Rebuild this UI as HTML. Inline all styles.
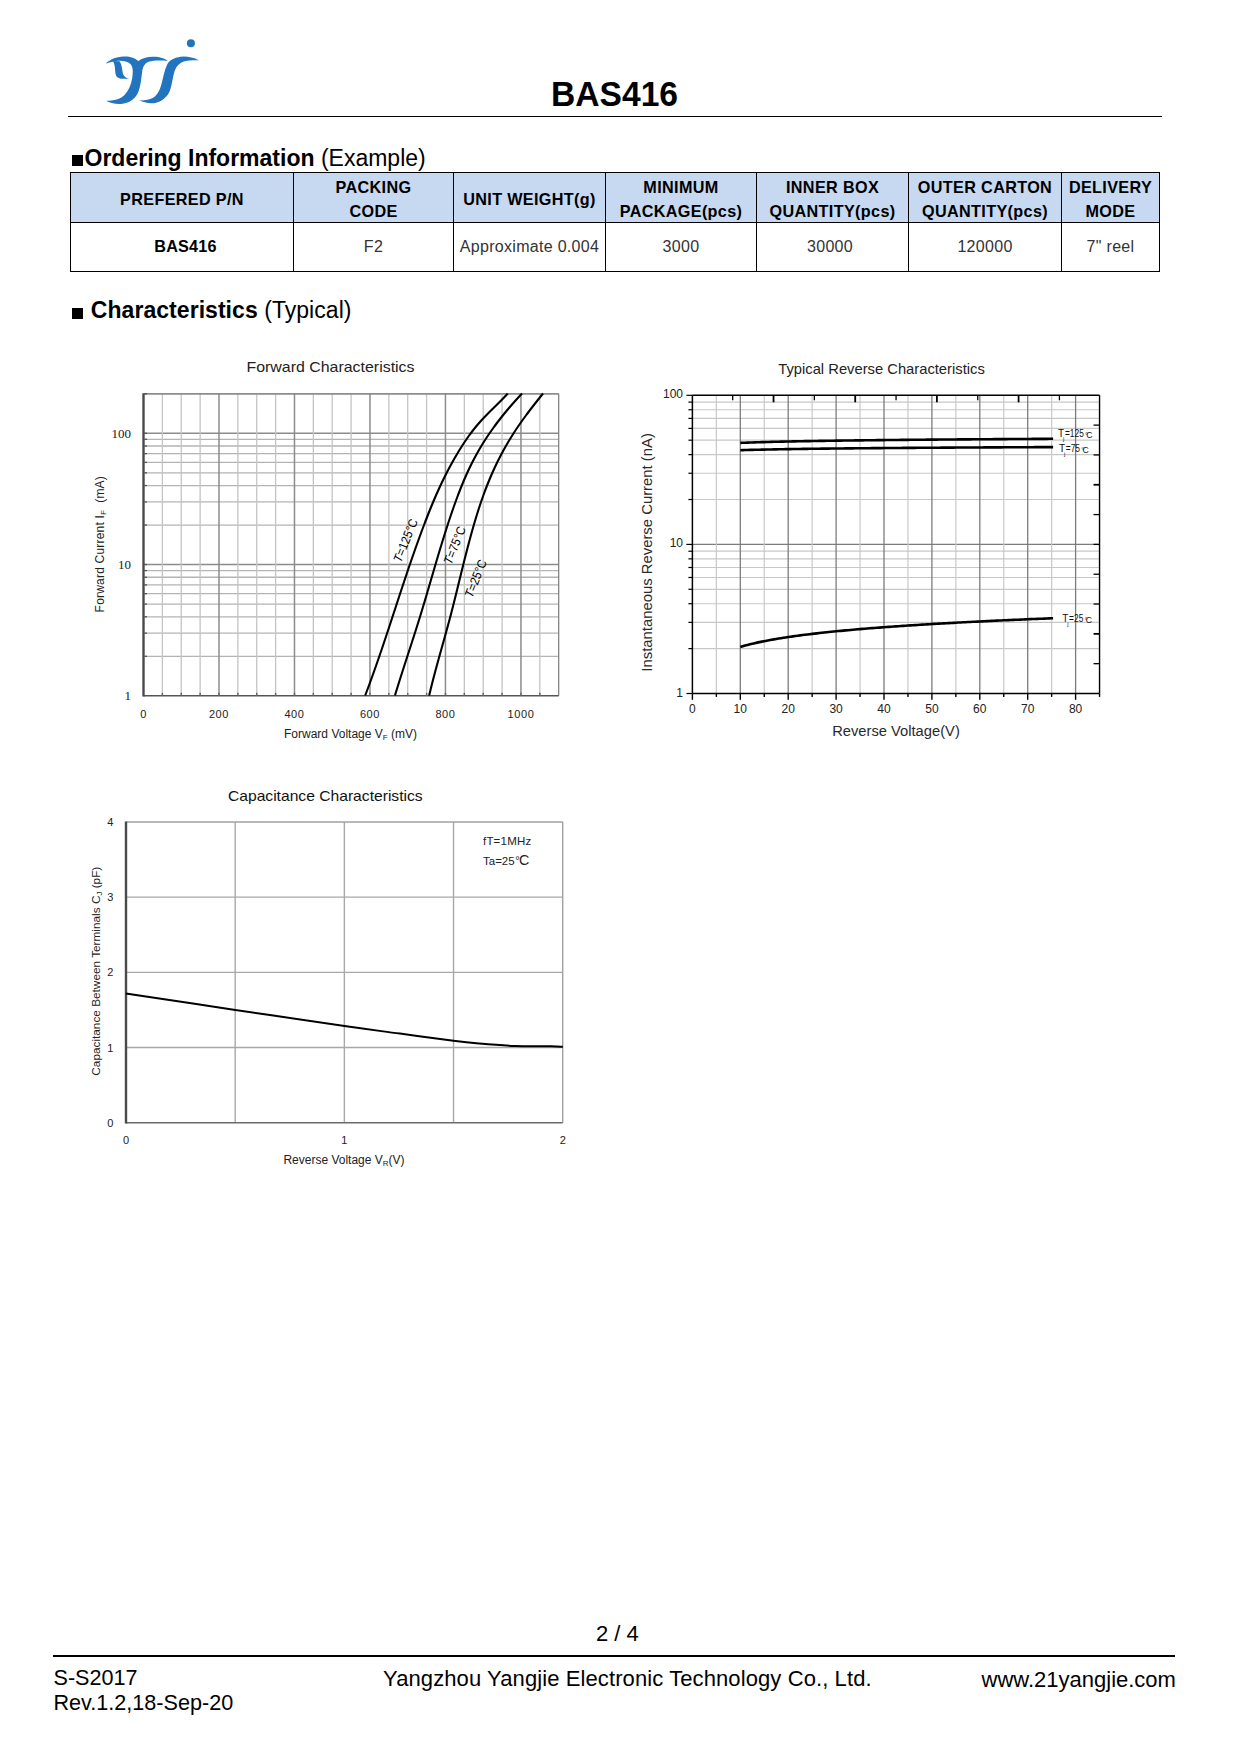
<!DOCTYPE html>
<html><head><meta charset="utf-8">
<style>
html,body{margin:0;padding:0;background:#fff;}
body{width:1240px;height:1754px;position:relative;overflow:hidden;font-family:"Liberation Sans",sans-serif;color:#000;}
.a{position:absolute;white-space:nowrap;line-height:1;}
.hr{position:absolute;background:#000;}
table.ord{position:absolute;left:70px;top:172px;border-collapse:collapse;table-layout:fixed;}
table.ord td{border:1px solid #000;padding:0;text-align:center;vertical-align:middle;font-size:16.2px;letter-spacing:0.2px;line-height:23.5px;}
table.ord tr.h td{background:#c6d9f1;font-weight:bold;height:49px;padding:0;line-height:24px;letter-spacing:0.35px;}
table.ord td span.t{display:inline-block;position:relative;top:1.8px;}
table.ord tr.b td{height:48px;padding-bottom:0px;color:#333;font-size:16px;letter-spacing:0.3px;}
</style></head>
<body>
<!-- logo -->
<svg style="position:absolute;left:0;top:0" width="220" height="120" viewBox="0 0 220 120">
 <g fill="#2274be">
  <g transform="translate(100 50) scale(0.05647)">
   <path d="M110,232 C180,170 280,120 420,115 C540,112 630,150 680,195 C740,150 830,118 950,120 C1060,122 1150,150 1200,195 C1100,185 950,180 860,210 C790,240 755,300 745,400 C730,520 720,640 680,740 C630,860 520,950 370,955 C260,958 160,940 110,900 C250,895 360,870 430,800 C510,720 550,620 570,500 C585,400 590,310 540,250 C490,200 400,185 320,190 C230,195 160,225 110,240 Z"/>
   <path d="M225,195 C272,250 262,350 278,432 C292,497 362,522 515,506 C455,490 422,472 406,420 C390,350 392,262 348,198 Z"/>
  </g>
  <g transform="translate(135 34) scale(0.05647)">
   <path d="M1130,465 C1050,420 950,400 860,400 C730,405 620,450 570,540 C520,640 500,780 470,880 C440,990 400,1080 320,1130 C250,1170 150,1180 75,1175 C150,1215 260,1235 360,1220 C470,1200 570,1120 620,1000 C660,880 670,750 700,660 C740,560 800,500 900,480 C990,465 1060,465 1130,465 Z"/>
  </g>
  <circle cx="190.9" cy="43.3" r="4"/>
 </g>
</svg>
<div class="a" style="left:551px;top:75.6px;font-size:35px;font-weight:bold;transform:scaleX(0.96);transform-origin:0 0;">BAS416</div>
<div class="hr" style="left:68px;top:115.8px;width:1094px;height:1.3px;"></div>

<div class="hr" style="left:72.3px;top:155.4px;width:10.5px;height:10.3px;"></div>
<div class="a" style="left:84.5px;top:146.7px;font-size:23px;"><b>Ordering Information</b> (Example)</div>

<table class="ord">
<colgroup><col style="width:223px"><col style="width:160px"><col style="width:152px"><col style="width:151px"><col style="width:152px"><col style="width:153px"><col style="width:98px"></colgroup>
<tr class="h"><td><span class="t">PREFERED P/N</span></td><td><span class="t">PACKING<br>CODE</span></td><td><span class="t">UNIT WEIGHT(g)</span></td><td><span class="t">MINIMUM<br>PACKAGE(pcs)</span></td><td><span class="t">INNER BOX<br>QUANTITY(pcs)</span></td><td><span class="t">OUTER CARTON<br>QUANTITY(pcs)</span></td><td><span class="t">DELIVERY<br>MODE</span></td></tr>
<tr class="b"><td style="font-weight:bold;color:#000;font-size:16.2px;letter-spacing:0.2px;padding-left:7px">BAS416</td><td>F2</td><td>Approximate 0.004</td><td>3000</td><td style="padding-right:5px">30000</td><td>120000</td><td>7" reel</td></tr>
</table>

<div class="hr" style="left:72.3px;top:308.1px;width:10.6px;height:10.7px;"></div>
<div class="a" style="left:90.8px;top:299.3px;font-size:23px;letter-spacing:0.05px;"><b>Characteristics</b> (Typical)</div>

<!-- CHARTS -->
<svg id="charts" style="position:absolute;left:0;top:0" width="1240" height="1240" viewBox="0 0 1240 1240">
<line x1="143.50" y1="656.29" x2="558.70" y2="656.29" stroke="#b4b4b4" stroke-width="1.3"/>
<line x1="143.50" y1="633.18" x2="558.70" y2="633.18" stroke="#b4b4b4" stroke-width="1.3"/>
<line x1="143.50" y1="616.78" x2="558.70" y2="616.78" stroke="#b4b4b4" stroke-width="1.3"/>
<line x1="143.50" y1="604.06" x2="558.70" y2="604.06" stroke="#b4b4b4" stroke-width="1.3"/>
<line x1="143.50" y1="593.67" x2="558.70" y2="593.67" stroke="#b4b4b4" stroke-width="1.3"/>
<line x1="143.50" y1="584.88" x2="558.70" y2="584.88" stroke="#b4b4b4" stroke-width="1.3"/>
<line x1="143.50" y1="577.27" x2="558.70" y2="577.27" stroke="#b4b4b4" stroke-width="1.3"/>
<line x1="143.50" y1="570.56" x2="558.70" y2="570.56" stroke="#b4b4b4" stroke-width="1.3"/>
<line x1="143.50" y1="564.55" x2="558.70" y2="564.55" stroke="#8c8c8c" stroke-width="1.6"/>
<line x1="143.50" y1="525.04" x2="558.70" y2="525.04" stroke="#b4b4b4" stroke-width="1.3"/>
<line x1="143.50" y1="501.93" x2="558.70" y2="501.93" stroke="#b4b4b4" stroke-width="1.3"/>
<line x1="143.50" y1="485.53" x2="558.70" y2="485.53" stroke="#b4b4b4" stroke-width="1.3"/>
<line x1="143.50" y1="472.81" x2="558.70" y2="472.81" stroke="#b4b4b4" stroke-width="1.3"/>
<line x1="143.50" y1="462.42" x2="558.70" y2="462.42" stroke="#b4b4b4" stroke-width="1.3"/>
<line x1="143.50" y1="453.63" x2="558.70" y2="453.63" stroke="#b4b4b4" stroke-width="1.3"/>
<line x1="143.50" y1="446.02" x2="558.70" y2="446.02" stroke="#b4b4b4" stroke-width="1.3"/>
<line x1="143.50" y1="439.31" x2="558.70" y2="439.31" stroke="#b4b4b4" stroke-width="1.3"/>
<line x1="143.50" y1="433.30" x2="558.70" y2="433.30" stroke="#8c8c8c" stroke-width="1.6"/>
<line x1="143.50" y1="393.79" x2="558.70" y2="393.79" stroke="#b4b4b4" stroke-width="1.3"/>
<line x1="162.37" y1="393.79" x2="162.37" y2="695.80" stroke="#c4c4c4" stroke-width="1.3"/>
<line x1="181.25" y1="393.79" x2="181.25" y2="695.80" stroke="#c4c4c4" stroke-width="1.3"/>
<line x1="200.12" y1="393.79" x2="200.12" y2="695.80" stroke="#c4c4c4" stroke-width="1.3"/>
<line x1="218.99" y1="393.79" x2="218.99" y2="695.80" stroke="#8c8c8c" stroke-width="1.5"/>
<line x1="237.86" y1="393.79" x2="237.86" y2="695.80" stroke="#c4c4c4" stroke-width="1.3"/>
<line x1="256.74" y1="393.79" x2="256.74" y2="695.80" stroke="#c4c4c4" stroke-width="1.3"/>
<line x1="275.61" y1="393.79" x2="275.61" y2="695.80" stroke="#c4c4c4" stroke-width="1.3"/>
<line x1="294.48" y1="393.79" x2="294.48" y2="695.80" stroke="#8c8c8c" stroke-width="1.5"/>
<line x1="313.35" y1="393.79" x2="313.35" y2="695.80" stroke="#c4c4c4" stroke-width="1.3"/>
<line x1="332.23" y1="393.79" x2="332.23" y2="695.80" stroke="#c4c4c4" stroke-width="1.3"/>
<line x1="351.10" y1="393.79" x2="351.10" y2="695.80" stroke="#c4c4c4" stroke-width="1.3"/>
<line x1="369.97" y1="393.79" x2="369.97" y2="695.80" stroke="#8c8c8c" stroke-width="1.5"/>
<line x1="388.85" y1="393.79" x2="388.85" y2="695.80" stroke="#c4c4c4" stroke-width="1.3"/>
<line x1="407.72" y1="393.79" x2="407.72" y2="695.80" stroke="#c4c4c4" stroke-width="1.3"/>
<line x1="426.59" y1="393.79" x2="426.59" y2="695.80" stroke="#c4c4c4" stroke-width="1.3"/>
<line x1="445.46" y1="393.79" x2="445.46" y2="695.80" stroke="#8c8c8c" stroke-width="1.5"/>
<line x1="464.34" y1="393.79" x2="464.34" y2="695.80" stroke="#c4c4c4" stroke-width="1.3"/>
<line x1="483.21" y1="393.79" x2="483.21" y2="695.80" stroke="#c4c4c4" stroke-width="1.3"/>
<line x1="502.08" y1="393.79" x2="502.08" y2="695.80" stroke="#c4c4c4" stroke-width="1.3"/>
<line x1="520.95" y1="393.79" x2="520.95" y2="695.80" stroke="#8c8c8c" stroke-width="1.5"/>
<line x1="539.83" y1="393.79" x2="539.83" y2="695.80" stroke="#c4c4c4" stroke-width="1.3"/>
<line x1="143.50" y1="393.79" x2="558.70" y2="393.79" stroke="#7a7a7a" stroke-width="1.2"/>
<line x1="558.70" y1="393.79" x2="558.70" y2="695.80" stroke="#7a7a7a" stroke-width="1.2"/>
<line x1="143.50" y1="695.80" x2="558.70" y2="695.80" stroke="#555" stroke-width="1.6"/>
<line x1="143.50" y1="393.29" x2="143.50" y2="696.60" stroke="#4a4a4a" stroke-width="2.4"/>
<path d="M507.73,393.50 L505.91,395.50 L504.02,397.50 L502.08,399.50 L500.10,401.50 L498.09,403.50 L496.06,405.50 L494.03,407.50 L492.00,409.50 L489.98,411.50 L487.99,413.50 L486.03,415.50 L484.10,417.50 L482.22,419.50 L480.40,421.50 L478.63,423.50 L476.92,425.50 L475.27,427.50 L473.66,429.50 L472.11,431.50 L470.60,433.50 L469.13,435.50 L467.70,437.50 L466.31,439.50 L464.95,441.50 L463.63,443.50 L462.33,445.50 L461.06,447.50 L459.81,449.50 L458.59,451.50 L457.38,453.50 L456.20,455.50 L455.03,457.50 L453.88,459.50 L452.75,461.50 L451.64,463.50 L450.55,465.50 L449.47,467.50 L448.41,469.50 L447.37,471.50 L446.34,473.50 L445.32,475.50 L444.33,477.50 L443.34,479.50 L442.37,481.50 L441.42,483.50 L440.48,485.50 L439.55,487.50 L438.63,489.50 L437.73,491.50 L436.84,493.50 L435.95,495.50 L435.08,497.50 L434.23,499.50 L433.38,501.50 L432.54,503.50 L431.71,505.50 L430.89,507.50 L430.07,509.50 L429.27,511.50 L428.47,513.50 L427.68,515.50 L426.90,517.50 L426.12,519.50 L425.35,521.50 L424.59,523.50 L423.83,525.50 L423.07,527.50 L422.32,529.50 L421.58,531.50 L420.84,533.50 L420.10,535.50 L419.37,537.50 L418.64,539.50 L417.92,541.50 L417.20,543.50 L416.49,545.50 L415.77,547.50 L415.07,549.50 L414.36,551.50 L413.66,553.50 L412.96,555.50 L412.27,557.50 L411.57,559.50 L410.88,561.50 L410.20,563.50 L409.51,565.50 L408.83,567.50 L408.15,569.50 L407.48,571.50 L406.80,573.50 L406.13,575.50 L405.46,577.50 L404.79,579.50 L404.12,581.50 L403.46,583.50 L402.80,585.50 L402.13,587.50 L401.47,589.50 L400.81,591.50 L400.15,593.50 L399.49,595.50 L398.84,597.50 L398.18,599.50 L397.52,601.50 L396.87,603.50 L396.21,605.50 L395.56,607.50 L394.90,609.50 L394.25,611.50 L393.59,613.50 L392.94,615.50 L392.28,617.50 L391.63,619.50 L390.97,621.50 L390.31,623.50 L389.65,625.50 L389.00,627.50 L388.33,629.50 L387.67,631.50 L387.01,633.50 L386.35,635.50 L385.68,637.50 L385.01,639.50 L384.34,641.50 L383.67,643.50 L383.00,645.50 L382.32,647.50 L381.65,649.50 L380.97,651.50 L380.28,653.50 L379.60,655.50 L378.91,657.50 L378.22,659.50 L377.53,661.50 L376.83,663.50 L376.13,665.50 L375.43,667.50 L374.72,669.50 L374.01,671.50 L373.30,673.50 L372.58,675.50 L371.86,677.50 L371.14,679.50 L370.41,681.50 L369.67,683.50 L368.94,685.50 L368.19,687.50 L367.45,689.50 L366.70,691.50 L365.94,693.50 L365.18,695.50" fill="none" stroke="#000" stroke-width="2.1" stroke-linejoin="round"/>
<path d="M522.02,393.50 L520.15,395.50 L518.29,397.50 L516.47,399.50 L514.67,401.50 L512.89,403.50 L511.14,405.50 L509.42,407.50 L507.72,409.50 L506.04,411.50 L504.40,413.50 L502.78,415.50 L501.18,417.50 L499.62,419.50 L498.07,421.50 L496.56,423.50 L495.07,425.50 L493.61,427.50 L492.17,429.50 L490.76,431.50 L489.38,433.50 L488.03,435.50 L486.70,437.50 L485.40,439.50 L484.12,441.50 L482.87,443.50 L481.64,445.50 L480.44,447.50 L479.27,449.50 L478.12,451.50 L476.99,453.50 L475.89,455.50 L474.81,457.50 L473.76,459.50 L472.72,461.50 L471.71,463.50 L470.72,465.50 L469.75,467.50 L468.79,469.50 L467.86,471.50 L466.95,473.50 L466.05,475.50 L465.17,477.50 L464.30,479.50 L463.45,481.50 L462.62,483.50 L461.80,485.50 L460.99,487.50 L460.19,489.50 L459.41,491.50 L458.64,493.50 L457.88,495.50 L457.13,497.50 L456.39,499.50 L455.66,501.50 L454.94,503.50 L454.23,505.50 L453.52,507.50 L452.82,509.50 L452.13,511.50 L451.44,513.50 L450.76,515.50 L450.09,517.50 L449.42,519.50 L448.76,521.50 L448.10,523.50 L447.45,525.50 L446.80,527.50 L446.16,529.50 L445.52,531.50 L444.89,533.50 L444.26,535.50 L443.63,537.50 L443.01,539.50 L442.39,541.50 L441.78,543.50 L441.17,545.50 L440.56,547.50 L439.95,549.50 L439.35,551.50 L438.75,553.50 L438.15,555.50 L437.56,557.50 L436.96,559.50 L436.37,561.50 L435.78,563.50 L435.19,565.50 L434.60,567.50 L434.02,569.50 L433.43,571.50 L432.84,573.50 L432.26,575.50 L431.67,577.50 L431.09,579.50 L430.50,581.50 L429.92,583.50 L429.33,585.50 L428.75,587.50 L428.16,589.50 L427.57,591.50 L426.99,593.50 L426.40,595.50 L425.81,597.50 L425.21,599.50 L424.62,601.50 L424.02,603.50 L423.42,605.50 L422.82,607.50 L422.22,609.50 L421.61,611.50 L421.00,613.50 L420.39,615.50 L419.77,617.50 L419.15,619.50 L418.53,621.50 L417.90,623.50 L417.27,625.50 L416.64,627.50 L416.01,629.50 L415.37,631.50 L414.73,633.50 L414.09,635.50 L413.45,637.50 L412.80,639.50 L412.16,641.50 L411.51,643.50 L410.86,645.50 L410.22,647.50 L409.57,649.50 L408.92,651.50 L408.27,653.50 L407.62,655.50 L406.97,657.50 L406.32,659.50 L405.67,661.50 L405.03,663.50 L404.38,665.50 L403.74,667.50 L403.09,669.50 L402.45,671.50 L401.81,673.50 L401.17,675.50 L400.54,677.50 L399.91,679.50 L399.27,681.50 L398.65,683.50 L398.02,685.50 L397.40,687.50 L396.78,689.50 L396.17,691.50 L395.56,693.50 L394.95,695.50" fill="none" stroke="#000" stroke-width="2.1" stroke-linejoin="round"/>
<path d="M543.04,393.50 L541.43,395.50 L539.83,397.50 L538.23,399.50 L536.65,401.50 L535.07,403.50 L533.51,405.50 L531.96,407.50 L530.42,409.50 L528.90,411.50 L527.39,413.50 L525.91,415.50 L524.44,417.50 L522.99,419.50 L521.56,421.50 L520.15,423.50 L518.77,425.50 L517.41,427.50 L516.08,429.50 L514.76,431.50 L513.47,433.50 L512.20,435.50 L510.96,437.50 L509.73,439.50 L508.53,441.50 L507.35,443.50 L506.19,445.50 L505.05,447.50 L503.93,449.50 L502.83,451.50 L501.75,453.50 L500.70,455.50 L499.66,457.50 L498.65,459.50 L497.65,461.50 L496.67,463.50 L495.72,465.50 L494.77,467.50 L493.85,469.50 L492.95,471.50 L492.06,473.50 L491.19,475.50 L490.33,477.50 L489.49,479.50 L488.67,481.50 L487.86,483.50 L487.07,485.50 L486.29,487.50 L485.52,489.50 L484.77,491.50 L484.03,493.50 L483.30,495.50 L482.59,497.50 L481.89,499.50 L481.20,501.50 L480.52,503.50 L479.85,505.50 L479.19,507.50 L478.54,509.50 L477.91,511.50 L477.28,513.50 L476.66,515.50 L476.04,517.50 L475.44,519.50 L474.84,521.50 L474.25,523.50 L473.67,525.50 L473.10,527.50 L472.53,529.50 L471.96,531.50 L471.41,533.50 L470.85,535.50 L470.31,537.50 L469.76,539.50 L469.23,541.50 L468.70,543.50 L468.17,545.50 L467.64,547.50 L467.12,549.50 L466.61,551.50 L466.09,553.50 L465.58,555.50 L465.08,557.50 L464.57,559.50 L464.07,561.50 L463.57,563.50 L463.08,565.50 L462.58,567.50 L462.09,569.50 L461.59,571.50 L461.10,573.50 L460.61,575.50 L460.12,577.50 L459.63,579.50 L459.14,581.50 L458.65,583.50 L458.16,585.50 L457.67,587.50 L457.18,589.50 L456.69,591.50 L456.20,593.50 L455.70,595.50 L455.20,597.50 L454.70,599.50 L454.20,601.50 L453.70,603.50 L453.20,605.50 L452.69,607.50 L452.17,609.50 L451.66,611.50 L451.14,613.50 L450.62,615.50 L450.09,617.50 L449.56,619.50 L449.03,621.50 L448.49,623.50 L447.95,625.50 L447.40,627.50 L446.85,629.50 L446.30,631.50 L445.75,633.50 L445.19,635.50 L444.64,637.50 L444.08,639.50 L443.52,641.50 L442.96,643.50 L442.40,645.50 L441.84,647.50 L441.28,649.50 L440.72,651.50 L440.16,653.50 L439.61,655.50 L439.05,657.50 L438.50,659.50 L437.95,661.50 L437.40,663.50 L436.85,665.50 L436.31,667.50 L435.77,669.50 L435.23,671.50 L434.70,673.50 L434.17,675.50 L433.64,677.50 L433.13,679.50 L432.61,681.50 L432.10,683.50 L431.60,685.50 L431.10,687.50 L430.61,689.50 L430.13,691.50 L429.65,693.50 L429.18,695.50" fill="none" stroke="#000" stroke-width="2.1" stroke-linejoin="round"/>
<text x="131.00" y="437.60" font-family="'Liberation Serif', serif" font-size="13" text-anchor="end" fill="#222">100</text>
<text x="131.00" y="569.10" font-family="'Liberation Serif', serif" font-size="13" text-anchor="end" fill="#222">10</text>
<text x="131.00" y="700.10" font-family="'Liberation Serif', serif" font-size="13" text-anchor="end" fill="#222">1</text>
<text x="143.50" y="718.20" font-family="'Liberation Sans', sans-serif" font-size="11" text-anchor="middle" fill="#222" letter-spacing="0.6">0</text>
<text x="218.99" y="718.20" font-family="'Liberation Sans', sans-serif" font-size="11" text-anchor="middle" fill="#222" letter-spacing="0.6">200</text>
<text x="294.48" y="718.20" font-family="'Liberation Sans', sans-serif" font-size="11" text-anchor="middle" fill="#222" letter-spacing="0.6">400</text>
<text x="369.97" y="718.20" font-family="'Liberation Sans', sans-serif" font-size="11" text-anchor="middle" fill="#222" letter-spacing="0.6">600</text>
<text x="445.46" y="718.20" font-family="'Liberation Sans', sans-serif" font-size="11" text-anchor="middle" fill="#222" letter-spacing="0.6">800</text>
<text x="520.95" y="718.20" font-family="'Liberation Sans', sans-serif" font-size="11" text-anchor="middle" fill="#222" letter-spacing="0.6">1000</text>
<line x1="144.50" y1="656.29" x2="147.00" y2="656.29" stroke="#555" stroke-width="1.3"/>
<line x1="144.50" y1="633.18" x2="147.00" y2="633.18" stroke="#555" stroke-width="1.3"/>
<line x1="144.50" y1="616.78" x2="147.00" y2="616.78" stroke="#555" stroke-width="1.3"/>
<line x1="144.50" y1="604.06" x2="147.00" y2="604.06" stroke="#555" stroke-width="1.3"/>
<line x1="144.50" y1="593.67" x2="147.00" y2="593.67" stroke="#555" stroke-width="1.3"/>
<line x1="144.50" y1="584.88" x2="147.00" y2="584.88" stroke="#555" stroke-width="1.3"/>
<line x1="144.50" y1="577.27" x2="147.00" y2="577.27" stroke="#555" stroke-width="1.3"/>
<line x1="144.50" y1="570.56" x2="147.00" y2="570.56" stroke="#555" stroke-width="1.3"/>
<line x1="144.50" y1="564.55" x2="147.00" y2="564.55" stroke="#555" stroke-width="1.3"/>
<line x1="144.50" y1="525.04" x2="147.00" y2="525.04" stroke="#555" stroke-width="1.3"/>
<line x1="144.50" y1="501.93" x2="147.00" y2="501.93" stroke="#555" stroke-width="1.3"/>
<line x1="144.50" y1="485.53" x2="147.00" y2="485.53" stroke="#555" stroke-width="1.3"/>
<line x1="144.50" y1="472.81" x2="147.00" y2="472.81" stroke="#555" stroke-width="1.3"/>
<line x1="144.50" y1="462.42" x2="147.00" y2="462.42" stroke="#555" stroke-width="1.3"/>
<line x1="144.50" y1="453.63" x2="147.00" y2="453.63" stroke="#555" stroke-width="1.3"/>
<line x1="144.50" y1="446.02" x2="147.00" y2="446.02" stroke="#555" stroke-width="1.3"/>
<line x1="144.50" y1="439.31" x2="147.00" y2="439.31" stroke="#555" stroke-width="1.3"/>
<line x1="144.50" y1="433.30" x2="147.00" y2="433.30" stroke="#555" stroke-width="1.3"/>
<line x1="144.50" y1="393.79" x2="147.00" y2="393.79" stroke="#555" stroke-width="1.3"/>
<line x1="162.37" y1="692.80" x2="162.37" y2="695.80" stroke="#666" stroke-width="1.5"/>
<line x1="181.25" y1="692.80" x2="181.25" y2="695.80" stroke="#666" stroke-width="1.5"/>
<line x1="200.12" y1="692.80" x2="200.12" y2="695.80" stroke="#666" stroke-width="1.5"/>
<line x1="218.99" y1="692.80" x2="218.99" y2="695.80" stroke="#666" stroke-width="1.5"/>
<line x1="237.86" y1="692.80" x2="237.86" y2="695.80" stroke="#666" stroke-width="1.5"/>
<line x1="256.74" y1="692.80" x2="256.74" y2="695.80" stroke="#666" stroke-width="1.5"/>
<line x1="275.61" y1="692.80" x2="275.61" y2="695.80" stroke="#666" stroke-width="1.5"/>
<line x1="294.48" y1="692.80" x2="294.48" y2="695.80" stroke="#666" stroke-width="1.5"/>
<line x1="313.35" y1="692.80" x2="313.35" y2="695.80" stroke="#666" stroke-width="1.5"/>
<line x1="332.23" y1="692.80" x2="332.23" y2="695.80" stroke="#666" stroke-width="1.5"/>
<line x1="351.10" y1="692.80" x2="351.10" y2="695.80" stroke="#666" stroke-width="1.5"/>
<line x1="369.97" y1="692.80" x2="369.97" y2="695.80" stroke="#666" stroke-width="1.5"/>
<line x1="388.85" y1="692.80" x2="388.85" y2="695.80" stroke="#666" stroke-width="1.5"/>
<line x1="407.72" y1="692.80" x2="407.72" y2="695.80" stroke="#666" stroke-width="1.5"/>
<line x1="426.59" y1="692.80" x2="426.59" y2="695.80" stroke="#666" stroke-width="1.5"/>
<line x1="445.46" y1="692.80" x2="445.46" y2="695.80" stroke="#666" stroke-width="1.5"/>
<line x1="464.34" y1="692.80" x2="464.34" y2="695.80" stroke="#666" stroke-width="1.5"/>
<line x1="483.21" y1="692.80" x2="483.21" y2="695.80" stroke="#666" stroke-width="1.5"/>
<line x1="502.08" y1="692.80" x2="502.08" y2="695.80" stroke="#666" stroke-width="1.5"/>
<line x1="520.95" y1="692.80" x2="520.95" y2="695.80" stroke="#666" stroke-width="1.5"/>
<line x1="539.83" y1="692.80" x2="539.83" y2="695.80" stroke="#666" stroke-width="1.5"/>
<text x="330.50" y="371.50" font-family="'Liberation Sans', sans-serif" font-size="15" text-anchor="middle" fill="#222" textLength="168" lengthAdjust="spacingAndGlyphs">Forward Characteristics</text>
<text x="350.50" y="738.00" font-family="'Liberation Sans', sans-serif" font-size="12" text-anchor="middle" fill="#222">Forward Voltage V<tspan font-size="8" dy="2">F</tspan><tspan dy="-2"> (mV)</tspan></text>
<g transform="translate(103.5 544.2) rotate(-90)">
<text x="0.00" y="0.00" font-family="'Liberation Sans', sans-serif" font-size="12" text-anchor="middle" fill="#222" letter-spacing="0.2">Forward Current I<tspan font-size="8" dy="2">F</tspan><tspan dy="-2" xml:space="preserve">  (mA)</tspan></text>
</g>
<g transform="translate(405.3 540.4) rotate(-68)">
<text x="0.00" y="4.50" font-family="'Liberation Sans', sans-serif" font-size="12.6" text-anchor="middle" fill="#000" textLength="45.5" lengthAdjust="spacingAndGlyphs"><tspan font-style="italic">T</tspan>=125°C</text>
</g>
<g transform="translate(454.5 545.2) rotate(-68)">
<text x="0.00" y="4.50" font-family="'Liberation Sans', sans-serif" font-size="12.6" text-anchor="middle" fill="#000" textLength="39.5" lengthAdjust="spacingAndGlyphs"><tspan font-style="italic">T</tspan>=75°C</text>
</g>
<g transform="translate(475.5 578.5) rotate(-68)">
<text x="0.00" y="4.50" font-family="'Liberation Sans', sans-serif" font-size="12.6" text-anchor="middle" fill="#000" textLength="39.5" lengthAdjust="spacingAndGlyphs"><tspan font-style="italic">T</tspan>=25°C</text>
</g>
<line x1="692.40" y1="648.62" x2="1099.55" y2="648.62" stroke="#c8c8c8" stroke-width="1.2"/>
<line x1="692.40" y1="622.36" x2="1099.55" y2="622.36" stroke="#c8c8c8" stroke-width="1.2"/>
<line x1="692.40" y1="603.73" x2="1099.55" y2="603.73" stroke="#c8c8c8" stroke-width="1.2"/>
<line x1="692.40" y1="589.28" x2="1099.55" y2="589.28" stroke="#c8c8c8" stroke-width="1.2"/>
<line x1="692.40" y1="577.48" x2="1099.55" y2="577.48" stroke="#c8c8c8" stroke-width="1.2"/>
<line x1="692.40" y1="567.50" x2="1099.55" y2="567.50" stroke="#c8c8c8" stroke-width="1.2"/>
<line x1="692.40" y1="558.85" x2="1099.55" y2="558.85" stroke="#c8c8c8" stroke-width="1.2"/>
<line x1="692.40" y1="551.22" x2="1099.55" y2="551.22" stroke="#c8c8c8" stroke-width="1.2"/>
<line x1="692.40" y1="544.40" x2="1099.55" y2="544.40" stroke="#7c7c7c" stroke-width="1.3"/>
<line x1="692.40" y1="499.52" x2="1099.55" y2="499.52" stroke="#c8c8c8" stroke-width="1.2"/>
<line x1="692.40" y1="473.26" x2="1099.55" y2="473.26" stroke="#c8c8c8" stroke-width="1.2"/>
<line x1="692.40" y1="454.63" x2="1099.55" y2="454.63" stroke="#c8c8c8" stroke-width="1.2"/>
<line x1="692.40" y1="440.18" x2="1099.55" y2="440.18" stroke="#c8c8c8" stroke-width="1.2"/>
<line x1="692.40" y1="428.38" x2="1099.55" y2="428.38" stroke="#c8c8c8" stroke-width="1.2"/>
<line x1="692.40" y1="418.40" x2="1099.55" y2="418.40" stroke="#c8c8c8" stroke-width="1.2"/>
<line x1="692.40" y1="409.75" x2="1099.55" y2="409.75" stroke="#c8c8c8" stroke-width="1.2"/>
<line x1="692.40" y1="402.12" x2="1099.55" y2="402.12" stroke="#c8c8c8" stroke-width="1.2"/>
<line x1="716.35" y1="395.30" x2="716.35" y2="693.50" stroke="#c8c8c8" stroke-width="1.2"/>
<line x1="740.30" y1="395.30" x2="740.30" y2="693.50" stroke="#7c7c7c" stroke-width="1.3"/>
<line x1="764.25" y1="395.30" x2="764.25" y2="693.50" stroke="#c8c8c8" stroke-width="1.2"/>
<line x1="788.20" y1="395.30" x2="788.20" y2="693.50" stroke="#7c7c7c" stroke-width="1.3"/>
<line x1="812.15" y1="395.30" x2="812.15" y2="693.50" stroke="#c8c8c8" stroke-width="1.2"/>
<line x1="836.10" y1="395.30" x2="836.10" y2="693.50" stroke="#7c7c7c" stroke-width="1.3"/>
<line x1="860.05" y1="395.30" x2="860.05" y2="693.50" stroke="#c8c8c8" stroke-width="1.2"/>
<line x1="884.00" y1="395.30" x2="884.00" y2="693.50" stroke="#7c7c7c" stroke-width="1.3"/>
<line x1="907.95" y1="395.30" x2="907.95" y2="693.50" stroke="#c8c8c8" stroke-width="1.2"/>
<line x1="931.90" y1="395.30" x2="931.90" y2="693.50" stroke="#7c7c7c" stroke-width="1.3"/>
<line x1="955.85" y1="395.30" x2="955.85" y2="693.50" stroke="#c8c8c8" stroke-width="1.2"/>
<line x1="979.80" y1="395.30" x2="979.80" y2="693.50" stroke="#7c7c7c" stroke-width="1.3"/>
<line x1="1003.75" y1="395.30" x2="1003.75" y2="693.50" stroke="#c8c8c8" stroke-width="1.2"/>
<line x1="1027.70" y1="395.30" x2="1027.70" y2="693.50" stroke="#7c7c7c" stroke-width="1.3"/>
<line x1="1051.65" y1="395.30" x2="1051.65" y2="693.50" stroke="#c8c8c8" stroke-width="1.2"/>
<line x1="1075.60" y1="395.30" x2="1075.60" y2="693.50" stroke="#7c7c7c" stroke-width="1.3"/>
<line x1="692.40" y1="395.30" x2="1099.55" y2="395.30" stroke="#000" stroke-width="1.4"/>
<line x1="1099.55" y1="395.30" x2="1099.55" y2="693.50" stroke="#000" stroke-width="1.4"/>
<line x1="692.40" y1="693.50" x2="1099.55" y2="693.50" stroke="#000" stroke-width="1.5"/>
<line x1="692.40" y1="395.30" x2="692.40" y2="693.50" stroke="#000" stroke-width="1.5"/>
<line x1="686.40" y1="693.50" x2="692.40" y2="693.50" stroke="#000" stroke-width="1.2"/>
<line x1="688.40" y1="648.62" x2="692.40" y2="648.62" stroke="#000" stroke-width="1.2"/>
<line x1="688.40" y1="622.36" x2="692.40" y2="622.36" stroke="#000" stroke-width="1.2"/>
<line x1="688.40" y1="603.73" x2="692.40" y2="603.73" stroke="#000" stroke-width="1.2"/>
<line x1="688.40" y1="589.28" x2="692.40" y2="589.28" stroke="#000" stroke-width="1.2"/>
<line x1="688.40" y1="577.48" x2="692.40" y2="577.48" stroke="#000" stroke-width="1.2"/>
<line x1="688.40" y1="567.50" x2="692.40" y2="567.50" stroke="#000" stroke-width="1.2"/>
<line x1="688.40" y1="558.85" x2="692.40" y2="558.85" stroke="#000" stroke-width="1.2"/>
<line x1="688.40" y1="551.22" x2="692.40" y2="551.22" stroke="#000" stroke-width="1.2"/>
<line x1="686.40" y1="544.40" x2="692.40" y2="544.40" stroke="#000" stroke-width="1.2"/>
<line x1="688.40" y1="499.52" x2="692.40" y2="499.52" stroke="#000" stroke-width="1.2"/>
<line x1="688.40" y1="473.26" x2="692.40" y2="473.26" stroke="#000" stroke-width="1.2"/>
<line x1="688.40" y1="454.63" x2="692.40" y2="454.63" stroke="#000" stroke-width="1.2"/>
<line x1="688.40" y1="440.18" x2="692.40" y2="440.18" stroke="#000" stroke-width="1.2"/>
<line x1="688.40" y1="428.38" x2="692.40" y2="428.38" stroke="#000" stroke-width="1.2"/>
<line x1="688.40" y1="418.40" x2="692.40" y2="418.40" stroke="#000" stroke-width="1.2"/>
<line x1="688.40" y1="409.75" x2="692.40" y2="409.75" stroke="#000" stroke-width="1.2"/>
<line x1="688.40" y1="402.12" x2="692.40" y2="402.12" stroke="#000" stroke-width="1.2"/>
<line x1="686.40" y1="395.30" x2="692.40" y2="395.30" stroke="#000" stroke-width="1.2"/>
<line x1="692.40" y1="693.50" x2="692.40" y2="699.80" stroke="#000" stroke-width="1.4"/>
<line x1="716.35" y1="693.50" x2="716.35" y2="696.90" stroke="#000" stroke-width="1.4"/>
<line x1="740.30" y1="693.50" x2="740.30" y2="699.80" stroke="#000" stroke-width="1.4"/>
<line x1="764.25" y1="693.50" x2="764.25" y2="696.90" stroke="#000" stroke-width="1.4"/>
<line x1="788.20" y1="693.50" x2="788.20" y2="699.80" stroke="#000" stroke-width="1.4"/>
<line x1="812.15" y1="693.50" x2="812.15" y2="696.90" stroke="#000" stroke-width="1.4"/>
<line x1="836.10" y1="693.50" x2="836.10" y2="699.80" stroke="#000" stroke-width="1.4"/>
<line x1="860.05" y1="693.50" x2="860.05" y2="696.90" stroke="#000" stroke-width="1.4"/>
<line x1="884.00" y1="693.50" x2="884.00" y2="699.80" stroke="#000" stroke-width="1.4"/>
<line x1="907.95" y1="693.50" x2="907.95" y2="696.90" stroke="#000" stroke-width="1.4"/>
<line x1="931.90" y1="693.50" x2="931.90" y2="699.80" stroke="#000" stroke-width="1.4"/>
<line x1="955.85" y1="693.50" x2="955.85" y2="696.90" stroke="#000" stroke-width="1.4"/>
<line x1="979.80" y1="693.50" x2="979.80" y2="699.80" stroke="#000" stroke-width="1.4"/>
<line x1="1003.75" y1="693.50" x2="1003.75" y2="696.90" stroke="#000" stroke-width="1.4"/>
<line x1="1027.70" y1="693.50" x2="1027.70" y2="699.80" stroke="#000" stroke-width="1.4"/>
<line x1="1051.65" y1="693.50" x2="1051.65" y2="696.90" stroke="#000" stroke-width="1.4"/>
<line x1="1075.60" y1="693.50" x2="1075.60" y2="699.80" stroke="#000" stroke-width="1.4"/>
<line x1="1099.55" y1="693.50" x2="1099.55" y2="696.90" stroke="#000" stroke-width="1.4"/>
<line x1="732.70" y1="395.30" x2="732.70" y2="400.30" stroke="#000" stroke-width="1.3"/>
<line x1="773.54" y1="395.30" x2="773.54" y2="402.30" stroke="#000" stroke-width="1.8"/>
<line x1="814.38" y1="395.30" x2="814.38" y2="400.30" stroke="#000" stroke-width="1.3"/>
<line x1="855.22" y1="395.30" x2="855.22" y2="402.30" stroke="#000" stroke-width="1.8"/>
<line x1="896.06" y1="395.30" x2="896.06" y2="400.30" stroke="#000" stroke-width="1.3"/>
<line x1="936.90" y1="395.30" x2="936.90" y2="402.30" stroke="#000" stroke-width="1.8"/>
<line x1="977.74" y1="395.30" x2="977.74" y2="400.30" stroke="#000" stroke-width="1.3"/>
<line x1="1018.58" y1="395.30" x2="1018.58" y2="402.30" stroke="#000" stroke-width="1.8"/>
<line x1="1059.42" y1="395.30" x2="1059.42" y2="400.30" stroke="#000" stroke-width="1.3"/>
<line x1="1093.55" y1="425.12" x2="1099.55" y2="425.12" stroke="#000" stroke-width="1.3"/>
<line x1="1093.55" y1="454.94" x2="1099.55" y2="454.94" stroke="#000" stroke-width="1.3"/>
<line x1="1093.55" y1="484.76" x2="1099.55" y2="484.76" stroke="#000" stroke-width="1.8"/>
<line x1="1093.55" y1="514.58" x2="1099.55" y2="514.58" stroke="#000" stroke-width="1.3"/>
<line x1="1093.55" y1="544.40" x2="1099.55" y2="544.40" stroke="#000" stroke-width="1.3"/>
<line x1="1093.55" y1="574.22" x2="1099.55" y2="574.22" stroke="#000" stroke-width="1.3"/>
<line x1="1093.55" y1="604.04" x2="1099.55" y2="604.04" stroke="#000" stroke-width="1.3"/>
<line x1="1093.55" y1="633.86" x2="1099.55" y2="633.86" stroke="#000" stroke-width="1.8"/>
<line x1="1093.55" y1="663.68" x2="1099.55" y2="663.68" stroke="#000" stroke-width="1.3"/>
<path d="M740.30,442.90 L742.69,442.80 L745.09,442.71 L747.49,442.62 L749.88,442.53 L752.27,442.45 L754.67,442.37 L757.06,442.29 L759.46,442.22 L761.86,442.15 L764.25,442.08 L766.64,442.01 L769.04,441.95 L771.43,441.88 L773.83,441.82 L776.23,441.76 L778.62,441.71 L781.01,441.65 L783.41,441.60 L785.80,441.54 L788.20,441.49 L790.60,441.44 L792.99,441.39 L795.38,441.35 L797.78,441.30 L800.17,441.25 L802.57,441.21 L804.96,441.17 L807.36,441.12 L809.75,441.08 L812.15,441.04 L814.54,441.00 L816.94,440.96 L819.33,440.92 L821.73,440.88 L824.12,440.85 L826.52,440.81 L828.91,440.77 L831.31,440.74 L833.70,440.70 L836.10,440.67 L838.50,440.64 L840.89,440.60 L843.28,440.57 L845.68,440.54 L848.08,440.51 L850.47,440.48 L852.87,440.45 L855.26,440.42 L857.65,440.39 L860.05,440.36 L862.44,440.33 L864.84,440.30 L867.23,440.27 L869.63,440.24 L872.02,440.22 L874.42,440.19 L876.81,440.16 L879.21,440.14 L881.61,440.11 L884.00,440.09 L886.39,440.06 L888.79,440.04 L891.18,440.01 L893.58,439.99 L895.97,439.96 L898.37,439.94 L900.76,439.92 L903.16,439.89 L905.55,439.87 L907.95,439.85 L910.35,439.82 L912.74,439.80 L915.13,439.78 L917.53,439.76 L919.92,439.74 L922.32,439.72 L924.71,439.69 L927.11,439.67 L929.50,439.65 L931.90,439.63 L934.29,439.61 L936.69,439.59 L939.09,439.57 L941.48,439.55 L943.88,439.53 L946.27,439.51 L948.66,439.50 L951.06,439.48 L953.45,439.46 L955.85,439.44 L958.24,439.42 L960.64,439.40 L963.03,439.38 L965.43,439.37 L967.83,439.35 L970.22,439.33 L972.62,439.31 L975.01,439.30 L977.40,439.28 L979.80,439.26 L982.19,439.25 L984.59,439.23 L986.98,439.21 L989.38,439.20 L991.77,439.18 L994.17,439.16 L996.57,439.15 L998.96,439.13 L1001.36,439.12 L1003.75,439.10 L1006.14,439.08 L1008.54,439.07 L1010.93,439.05 L1013.33,439.04 L1015.72,439.02 L1018.12,439.01 L1020.51,438.99 L1022.91,438.98 L1025.30,438.96 L1027.70,438.95 L1030.10,438.94 L1032.49,438.92 L1034.88,438.91 L1037.28,438.89 L1039.67,438.88 L1042.07,438.86 L1044.46,438.85 L1046.86,438.84 L1049.25,438.82 L1051.65,438.81 L1053.09,438.80" fill="none" stroke="#000" stroke-width="2.6" stroke-linejoin="round"/>
<path d="M740.30,450.20 L742.69,450.12 L745.09,450.05 L747.49,449.98 L749.88,449.92 L752.27,449.86 L754.67,449.80 L757.06,449.74 L759.46,449.68 L761.86,449.63 L764.25,449.58 L766.64,449.53 L769.04,449.48 L771.43,449.43 L773.83,449.38 L776.23,449.34 L778.62,449.29 L781.01,449.25 L783.41,449.21 L785.80,449.17 L788.20,449.13 L790.60,449.09 L792.99,449.06 L795.38,449.02 L797.78,448.99 L800.17,448.95 L802.57,448.92 L804.96,448.88 L807.36,448.85 L809.75,448.82 L812.15,448.79 L814.54,448.76 L816.94,448.73 L819.33,448.70 L821.73,448.67 L824.12,448.64 L826.52,448.61 L828.91,448.59 L831.31,448.56 L833.70,448.53 L836.10,448.51 L838.50,448.48 L840.89,448.46 L843.28,448.43 L845.68,448.41 L848.08,448.38 L850.47,448.36 L852.87,448.34 L855.26,448.32 L857.65,448.29 L860.05,448.27 L862.44,448.25 L864.84,448.23 L867.23,448.21 L869.63,448.19 L872.02,448.16 L874.42,448.14 L876.81,448.12 L879.21,448.10 L881.61,448.08 L884.00,448.07 L886.39,448.05 L888.79,448.03 L891.18,448.01 L893.58,447.99 L895.97,447.97 L898.37,447.95 L900.76,447.94 L903.16,447.92 L905.55,447.90 L907.95,447.88 L910.35,447.87 L912.74,447.85 L915.13,447.83 L917.53,447.82 L919.92,447.80 L922.32,447.78 L924.71,447.77 L927.11,447.75 L929.50,447.74 L931.90,447.72 L934.29,447.71 L936.69,447.69 L939.09,447.68 L941.48,447.66 L943.88,447.65 L946.27,447.63 L948.66,447.62 L951.06,447.60 L953.45,447.59 L955.85,447.57 L958.24,447.56 L960.64,447.55 L963.03,447.53 L965.43,447.52 L967.83,447.51 L970.22,447.49 L972.62,447.48 L975.01,447.47 L977.40,447.45 L979.80,447.44 L982.19,447.43 L984.59,447.42 L986.98,447.40 L989.38,447.39 L991.77,447.38 L994.17,447.37 L996.57,447.35 L998.96,447.34 L1001.36,447.33 L1003.75,447.32 L1006.14,447.31 L1008.54,447.29 L1010.93,447.28 L1013.33,447.27 L1015.72,447.26 L1018.12,447.25 L1020.51,447.24 L1022.91,447.23 L1025.30,447.21 L1027.70,447.20 L1030.10,447.19 L1032.49,447.18 L1034.88,447.17 L1037.28,447.16 L1039.67,447.15 L1042.07,447.14 L1044.46,447.13 L1046.86,447.12 L1049.25,447.11 L1051.65,447.10 L1053.09,447.09" fill="none" stroke="#000" stroke-width="2.6" stroke-linejoin="round"/>
<path d="M740.30,646.90 L742.69,646.21 L745.09,645.55 L747.49,644.92 L749.88,644.31 L752.27,643.73 L754.67,643.18 L757.06,642.64 L759.46,642.13 L761.86,641.63 L764.25,641.15 L766.64,640.68 L769.04,640.23 L771.43,639.79 L773.83,639.37 L776.23,638.96 L778.62,638.56 L781.01,638.17 L783.41,637.79 L785.80,637.42 L788.20,637.06 L790.60,636.71 L792.99,636.37 L795.38,636.03 L797.78,635.71 L800.17,635.39 L802.57,635.08 L804.96,634.77 L807.36,634.47 L809.75,634.18 L812.15,633.89 L814.54,633.61 L816.94,633.34 L819.33,633.06 L821.73,632.80 L824.12,632.54 L826.52,632.28 L828.91,632.03 L831.31,631.78 L833.70,631.54 L836.10,631.30 L838.50,631.07 L840.89,630.84 L843.28,630.61 L845.68,630.39 L848.08,630.17 L850.47,629.95 L852.87,629.74 L855.26,629.53 L857.65,629.32 L860.05,629.11 L862.44,628.91 L864.84,628.71 L867.23,628.52 L869.63,628.32 L872.02,628.13 L874.42,627.95 L876.81,627.76 L879.21,627.58 L881.61,627.40 L884.00,627.22 L886.39,627.04 L888.79,626.87 L891.18,626.70 L893.58,626.53 L895.97,626.36 L898.37,626.19 L900.76,626.03 L903.16,625.86 L905.55,625.70 L907.95,625.55 L910.35,625.39 L912.74,625.23 L915.13,625.08 L917.53,624.93 L919.92,624.78 L922.32,624.63 L924.71,624.48 L927.11,624.34 L929.50,624.19 L931.90,624.05 L934.29,623.91 L936.69,623.77 L939.09,623.63 L941.48,623.49 L943.88,623.36 L946.27,623.22 L948.66,623.09 L951.06,622.96 L953.45,622.83 L955.85,622.70 L958.24,622.57 L960.64,622.44 L963.03,622.31 L965.43,622.19 L967.83,622.06 L970.22,621.94 L972.62,621.82 L975.01,621.70 L977.40,621.58 L979.80,621.46 L982.19,621.34 L984.59,621.23 L986.98,621.11 L989.38,620.99 L991.77,620.88 L994.17,620.77 L996.57,620.66 L998.96,620.54 L1001.36,620.43 L1003.75,620.32 L1006.14,620.21 L1008.54,620.11 L1010.93,620.00 L1013.33,619.89 L1015.72,619.79 L1018.12,619.68 L1020.51,619.58 L1022.91,619.48 L1025.30,619.37 L1027.70,619.27 L1030.10,619.17 L1032.49,619.07 L1034.88,618.97 L1037.28,618.87 L1039.67,618.77 L1042.07,618.68 L1044.46,618.58 L1046.86,618.48 L1049.25,618.39 L1051.65,618.29 L1053.09,618.23" fill="none" stroke="#000" stroke-width="2.6" stroke-linejoin="round"/>
<text x="683.00" y="398.30" font-family="'Liberation Sans', sans-serif" font-size="12" text-anchor="end" fill="#222">100</text>
<text x="683.00" y="547.40" font-family="'Liberation Sans', sans-serif" font-size="12" text-anchor="end" fill="#222">10</text>
<text x="683.00" y="696.50" font-family="'Liberation Sans', sans-serif" font-size="12" text-anchor="end" fill="#222">1</text>
<text x="692.40" y="712.70" font-family="'Liberation Sans', sans-serif" font-size="12" text-anchor="middle" fill="#222">0</text>
<text x="740.30" y="712.70" font-family="'Liberation Sans', sans-serif" font-size="12" text-anchor="middle" fill="#222">10</text>
<text x="788.20" y="712.70" font-family="'Liberation Sans', sans-serif" font-size="12" text-anchor="middle" fill="#222">20</text>
<text x="836.10" y="712.70" font-family="'Liberation Sans', sans-serif" font-size="12" text-anchor="middle" fill="#222">30</text>
<text x="884.00" y="712.70" font-family="'Liberation Sans', sans-serif" font-size="12" text-anchor="middle" fill="#222">40</text>
<text x="931.90" y="712.70" font-family="'Liberation Sans', sans-serif" font-size="12" text-anchor="middle" fill="#222">50</text>
<text x="979.80" y="712.70" font-family="'Liberation Sans', sans-serif" font-size="12" text-anchor="middle" fill="#222">60</text>
<text x="1027.70" y="712.70" font-family="'Liberation Sans', sans-serif" font-size="12" text-anchor="middle" fill="#222">70</text>
<text x="1075.60" y="712.70" font-family="'Liberation Sans', sans-serif" font-size="12" text-anchor="middle" fill="#222">80</text>
<text x="881.50" y="373.50" font-family="'Liberation Sans', sans-serif" font-size="14.2" text-anchor="middle" fill="#222" textLength="206.5" lengthAdjust="spacingAndGlyphs">Typical Reverse Characteristics</text>
<text x="896.00" y="735.90" font-family="'Liberation Sans', sans-serif" font-size="15.5" text-anchor="middle" fill="#2a2a2a" textLength="127.6" lengthAdjust="spacingAndGlyphs">Reverse Voltage(V)</text>
<g transform="translate(652.2 552.4) rotate(-90)">
<text x="0.00" y="0.00" font-family="'Liberation Sans', sans-serif" font-size="15.5" text-anchor="middle" fill="#2a2a2a" textLength="238.5" lengthAdjust="spacingAndGlyphs">Instantaneous Reverse Current (nA)</text>
</g>
<text x="1058.10" y="436.90" font-family="'Liberation Sans', sans-serif" font-size="10" text-anchor="start" fill="#111">T</text>
<text x="1063.10" y="440.50" font-family="'Liberation Sans', sans-serif" font-size="6" text-anchor="start" fill="#111">j</text>
<text x="1065.00" y="436.90" font-family="'Liberation Sans', sans-serif" font-size="10" text-anchor="start" fill="#111" textLength="18.8" lengthAdjust="spacingAndGlyphs">=125</text>
<text x="1085.00" y="437.50" font-family="'Liberation Sans', sans-serif" font-size="8" text-anchor="start" fill="#111">°</text>
<text x="1086.20" y="438.00" font-family="'Liberation Sans', sans-serif" font-size="9.2" text-anchor="start" fill="#111" textLength="6.3" lengthAdjust="spacingAndGlyphs">C</text>
<text x="1058.90" y="451.90" font-family="'Liberation Sans', sans-serif" font-size="10" text-anchor="start" fill="#111">T</text>
<text x="1063.90" y="455.50" font-family="'Liberation Sans', sans-serif" font-size="6" text-anchor="start" fill="#111">j</text>
<text x="1065.80" y="451.90" font-family="'Liberation Sans', sans-serif" font-size="10" text-anchor="start" fill="#111" textLength="14.2" lengthAdjust="spacingAndGlyphs">=75</text>
<text x="1081.20" y="452.50" font-family="'Liberation Sans', sans-serif" font-size="8" text-anchor="start" fill="#111">°</text>
<text x="1082.40" y="453.00" font-family="'Liberation Sans', sans-serif" font-size="9.2" text-anchor="start" fill="#111" textLength="6.3" lengthAdjust="spacingAndGlyphs">C</text>
<text x="1062.20" y="622.00" font-family="'Liberation Sans', sans-serif" font-size="10" text-anchor="start" fill="#111">T</text>
<text x="1067.20" y="625.60" font-family="'Liberation Sans', sans-serif" font-size="6" text-anchor="start" fill="#111">j</text>
<text x="1069.10" y="622.00" font-family="'Liberation Sans', sans-serif" font-size="10" text-anchor="start" fill="#111" textLength="14.2" lengthAdjust="spacingAndGlyphs">=25</text>
<text x="1084.50" y="622.60" font-family="'Liberation Sans', sans-serif" font-size="8" text-anchor="start" fill="#111">°</text>
<text x="1085.70" y="623.10" font-family="'Liberation Sans', sans-serif" font-size="9.2" text-anchor="start" fill="#111" textLength="6.3" lengthAdjust="spacingAndGlyphs">C</text>
<line x1="235.18" y1="822.00" x2="235.18" y2="1122.70" stroke="#a8a8a8" stroke-width="1.4"/>
<line x1="344.35" y1="822.00" x2="344.35" y2="1122.70" stroke="#a8a8a8" stroke-width="1.4"/>
<line x1="453.53" y1="822.00" x2="453.53" y2="1122.70" stroke="#a8a8a8" stroke-width="1.4"/>
<line x1="126.00" y1="1047.53" x2="562.70" y2="1047.53" stroke="#a8a8a8" stroke-width="1.4"/>
<line x1="126.00" y1="972.35" x2="562.70" y2="972.35" stroke="#a8a8a8" stroke-width="1.4"/>
<line x1="126.00" y1="897.17" x2="562.70" y2="897.17" stroke="#a8a8a8" stroke-width="1.4"/>
<line x1="126.00" y1="822.00" x2="562.70" y2="822.00" stroke="#a0a0a0" stroke-width="1.4"/>
<line x1="562.70" y1="822.00" x2="562.70" y2="1122.70" stroke="#a0a0a0" stroke-width="1.4"/>
<line x1="126.00" y1="1122.70" x2="562.70" y2="1122.70" stroke="#6a6a6a" stroke-width="1.6"/>
<line x1="126.00" y1="821.50" x2="126.00" y2="1123.50" stroke="#4a4a4a" stroke-width="2.4"/>
<path d="M125.8,993.6 C144.1,996.3 198.9,1004.5 235.3,1009.9 C271.8,1015.3 317.1,1022.1 344.5,1026.1 C371.9,1030.0 381.8,1031.1 400.0,1033.6 C418.2,1036.0 440.2,1039.1 453.5,1040.8 C466.8,1042.5 469.2,1042.7 479.5,1043.6 C489.8,1044.5 503.3,1045.6 515.2,1046.1 C527.1,1046.5 542.8,1046.2 550.8,1046.3 C558.8,1046.4 560.9,1046.7 562.9,1046.8" fill="none" stroke="#000" stroke-width="2" stroke-linejoin="round"/>
<text x="110.20" y="1126.70" font-family="'Liberation Sans', sans-serif" font-size="11" text-anchor="middle" fill="#222">0</text>
<text x="110.20" y="1051.53" font-family="'Liberation Sans', sans-serif" font-size="11" text-anchor="middle" fill="#222">1</text>
<text x="110.20" y="976.35" font-family="'Liberation Sans', sans-serif" font-size="11" text-anchor="middle" fill="#222">2</text>
<text x="110.20" y="901.17" font-family="'Liberation Sans', sans-serif" font-size="11" text-anchor="middle" fill="#222">3</text>
<text x="110.20" y="826.00" font-family="'Liberation Sans', sans-serif" font-size="11" text-anchor="middle" fill="#222">4</text>
<text x="126.00" y="1144.00" font-family="'Liberation Sans', sans-serif" font-size="11" text-anchor="middle" fill="#222">0</text>
<text x="344.35" y="1144.00" font-family="'Liberation Sans', sans-serif" font-size="11" text-anchor="middle" fill="#222">1</text>
<text x="562.70" y="1144.00" font-family="'Liberation Sans', sans-serif" font-size="11" text-anchor="middle" fill="#222">2</text>
<text x="325.30" y="801.00" font-family="'Liberation Sans', sans-serif" font-size="15" text-anchor="middle" fill="#111" textLength="194.7" lengthAdjust="spacingAndGlyphs">Capacitance Characteristics</text>
<text x="344.00" y="1164.00" font-family="'Liberation Sans', sans-serif" font-size="12" text-anchor="middle" fill="#222">Reverse Voltage V<tspan font-size="8" dy="2">R</tspan><tspan dy="-2">(V)</tspan></text>
<g transform="translate(99.6 971.2) rotate(-90)">
<text x="0.00" y="0.00" font-family="'Liberation Sans', sans-serif" font-size="11.8" text-anchor="middle" fill="#222">Capacitance Between Terminals C<tspan font-size="8" dy="2">J</tspan><tspan dy="-2"> (pF)</tspan></text>
</g>
<text x="483.00" y="844.50" font-family="'Liberation Sans', sans-serif" font-size="11.5" text-anchor="start" fill="#222" letter-spacing="0.2">fT=1MHz</text>
<text x="483.00" y="865.00" font-family="'Liberation Sans', sans-serif" font-size="11.5" text-anchor="start" fill="#222">Ta=25<tspan font-size="11" dx="0.6" dy="-0.8">°</tspan><tspan font-size="14.3" dx="-0.6" dy="0.8">C</tspan></text>
</svg>

<!-- footer -->
<div class="a" style="left:596px;top:1622.5px;font-size:22px;">2 / 4</div>
<div class="hr" style="left:53px;top:1655px;width:1122px;height:2px;"></div>
<div class="a" style="left:53.5px;top:1666.5px;font-size:21.6px;">S-S2017</div>
<div class="a" style="left:53.5px;top:1691.7px;font-size:21.6px;">Rev.1.2,18-Sep-20</div>
<div class="a" style="left:383px;top:1668.2px;font-size:22px;letter-spacing:0.1px;">Yangzhou Yangjie Electronic Technology Co., Ltd.</div>
<div class="a" style="left:981.5px;top:1668.6px;font-size:22px;">www.21yangjie.com</div>
</body></html>
